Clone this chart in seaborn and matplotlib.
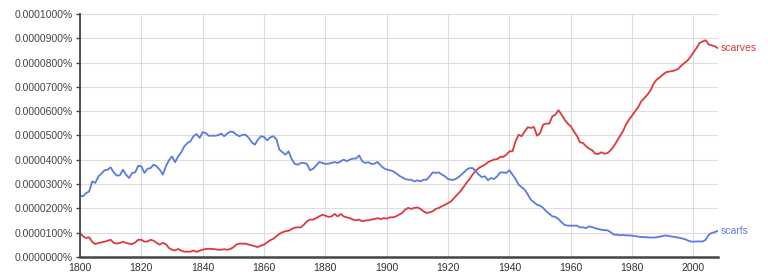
import numpy as np
import pandas as pd
import matplotlib
matplotlib.use("Agg")
import matplotlib.pyplot as plt
import seaborn as sns
from matplotlib.ticker import FuncFormatter, MultipleLocator

years = list(range(1800, 2009))

# values in units of 0.00001 %
scarfs = [
    2.52, 2.50, 2.63, 2.70, 3.11, 3.05, 3.32, 3.43, 3.57, 3.59,
    3.69, 3.48, 3.35, 3.36, 3.59, 3.39, 3.25, 3.46, 3.48, 3.76,
    3.73, 3.46, 3.63, 3.66, 3.80, 3.73, 3.59, 3.39, 3.73, 3.98,
    4.14, 3.90, 4.14, 4.31, 4.55, 4.69, 4.76, 4.97, 5.06, 4.90,
    5.14, 5.10, 4.99, 4.99, 4.99, 5.01, 5.08, 4.97, 5.08, 5.16,
    5.14, 5.03, 4.97, 5.03, 5.03, 4.90, 4.72, 4.62, 4.83, 4.97,
    4.94, 4.80, 4.92, 4.97, 4.86, 4.42, 4.31, 4.21, 4.35, 4.03,
    3.83, 3.80, 3.87, 3.87, 3.83, 3.57, 3.63, 3.77, 3.91, 3.87,
    3.83, 3.84, 3.87, 3.91, 3.87, 3.94, 4.01, 3.94, 4.01, 4.05,
    4.05, 4.18, 3.94, 3.87, 3.90, 3.83, 3.84, 3.91, 3.77, 3.66,
    3.60, 3.57, 3.53, 3.45, 3.35, 3.28, 3.21, 3.18, 3.18, 3.11,
    3.16, 3.11, 3.18, 3.18, 3.32, 3.48, 3.46, 3.48, 3.39, 3.32,
    3.21, 3.18, 3.18, 3.25, 3.35, 3.46, 3.59, 3.66, 3.66, 3.53,
    3.39, 3.29, 3.32, 3.16, 3.25, 3.21, 3.32, 3.48, 3.48, 3.46,
    3.57, 3.39, 3.21, 2.98, 2.87, 2.77, 2.57, 2.36, 2.25, 2.15,
    2.11, 2.02, 1.88, 1.78, 1.67, 1.65, 1.56, 1.43, 1.32, 1.29,
    1.29, 1.29, 1.29, 1.22, 1.22, 1.19, 1.26, 1.23, 1.18, 1.15,
    1.12, 1.10, 1.10, 1.02, 0.92, 0.92, 0.89, 0.91, 0.89, 0.89,
    0.88, 0.86, 0.84, 0.82, 0.82, 0.81, 0.80, 0.80, 0.81, 0.84,
    0.86, 0.89, 0.86, 0.84, 0.82, 0.80, 0.77, 0.74, 0.69, 0.64,
    0.63, 0.64, 0.64, 0.64, 0.71, 0.92, 0.99, 1.03, 1.08,
]

scarves = [
    0.99, 0.85, 0.78, 0.81, 0.62, 0.53, 0.58, 0.60, 0.63, 0.67,
    0.71, 0.58, 0.55, 0.58, 0.63, 0.58, 0.55, 0.53, 0.60, 0.71,
    0.71, 0.63, 0.64, 0.71, 0.67, 0.58, 0.51, 0.58, 0.53, 0.37,
    0.30, 0.27, 0.33, 0.26, 0.22, 0.22, 0.22, 0.27, 0.21, 0.26,
    0.30, 0.33, 0.34, 0.33, 0.32, 0.30, 0.30, 0.32, 0.30, 0.33,
    0.40, 0.51, 0.55, 0.55, 0.55, 0.51, 0.48, 0.44, 0.41, 0.47,
    0.51, 0.60, 0.69, 0.75, 0.85, 0.95, 1.02, 1.06, 1.08, 1.15,
    1.21, 1.22, 1.22, 1.33, 1.47, 1.54, 1.54, 1.60, 1.67, 1.74,
    1.70, 1.65, 1.67, 1.77, 1.67, 1.77, 1.67, 1.63, 1.60, 1.54,
    1.51, 1.54, 1.47, 1.50, 1.51, 1.54, 1.56, 1.60, 1.56, 1.60,
    1.58, 1.63, 1.63, 1.67, 1.74, 1.81, 1.95, 2.02, 1.98, 2.02,
    2.04, 1.98, 1.88, 1.81, 1.84, 1.88, 1.98, 2.02, 2.09, 2.15,
    2.22, 2.29, 2.43, 2.57, 2.70, 2.87, 3.05, 3.21, 3.39, 3.55,
    3.66, 3.73, 3.80, 3.90, 3.96, 4.01, 4.03, 4.12, 4.12, 4.21,
    4.35, 4.35, 4.76, 5.03, 4.97, 5.17, 5.34, 5.31, 5.35, 4.99,
    5.10, 5.45, 5.49, 5.49, 5.79, 5.86, 6.04, 5.86, 5.65, 5.49,
    5.38, 5.17, 4.99, 4.72, 4.69, 4.55, 4.46, 4.39, 4.25, 4.24,
    4.31, 4.25, 4.28, 4.39, 4.55, 4.76, 4.97, 5.17, 5.45, 5.65,
    5.82, 6.00, 6.17, 6.41, 6.54, 6.68, 6.86, 7.13, 7.30, 7.39,
    7.50, 7.60, 7.63, 7.65, 7.68, 7.74, 7.87, 7.98, 8.08, 8.23,
    8.42, 8.60, 8.81, 8.87, 8.92, 8.74, 8.71, 8.67, 8.59,
]

series_names = ["scarves", "scarfs"]
colors = {"scarves": "#dc3a3e", "scarfs": "#5a7be2"}
x_ticks = [1800, 1820, 1840, 1860, 1880, 1900, 1920, 1940, 1960, 1980, 2000]

df = pd.concat([
    pd.DataFrame({"year": years, "value": np.array(scarves) * 1e-5, "word": "scarves"}),
    pd.DataFrame({"year": years, "value": np.array(scarfs) * 1e-5, "word": "scarfs"}),
])

sns.set_style("white")
plt.rcParams["font.family"] = ["Liberation Sans", "DejaVu Sans"]

fig = plt.figure(figsize=(7.68, 2.8), dpi=100)
ax = fig.add_axes([80 / 768, 23 / 280, 638 / 768, 243 / 280])

sns.lineplot(data=df, x="year", y="value", hue="word", palette=colors,
             hue_order=series_names, linewidth=1.3, legend=False, ax=ax)

ax.set_xlim(1800, 2008)
ax.set_ylim(0, 0.0001)
ax.set_xticks(x_ticks)
ax.yaxis.set_major_locator(MultipleLocator(0.00001))
ax.yaxis.set_major_formatter(FuncFormatter(lambda v, p: f"{v:.7f}%"))
ax.set_xlabel("")
ax.set_ylabel("")

ax.grid(True, color="#dddddd", linewidth=0.8)
ax.set_axisbelow(True)
for s in ["top", "right"]:
    ax.spines[s].set_visible(False)
ax.spines["left"].set_color("#444444")
ax.spines["left"].set_linewidth(1.3)
ax.spines["bottom"].set_color("#444444")
ax.spines["bottom"].set_linewidth(1.8)
ax.tick_params(axis="y", length=3, width=1, color="#444444", labelsize=7.5,
               labelcolor="#444444", pad=2, left=True)
ax.tick_params(axis="x", length=0, labelsize=7.5, labelcolor="#333333", pad=4)

# end labels
ax.annotate("scarves", xy=(years[-1], scarves[-1] * 1e-5), xytext=(2, 0),
            textcoords="offset points", va="center", ha="left",
            color=colors["scarves"], fontsize=7.5, annotation_clip=False)
ax.annotate("scarfs", xy=(years[-1], scarfs[-1] * 1e-5), xytext=(2, 0),
            textcoords="offset points", va="center", ha="left",
            color=colors["scarfs"], fontsize=7.5, annotation_clip=False)

fig.savefig("out.png", dpi=100)
